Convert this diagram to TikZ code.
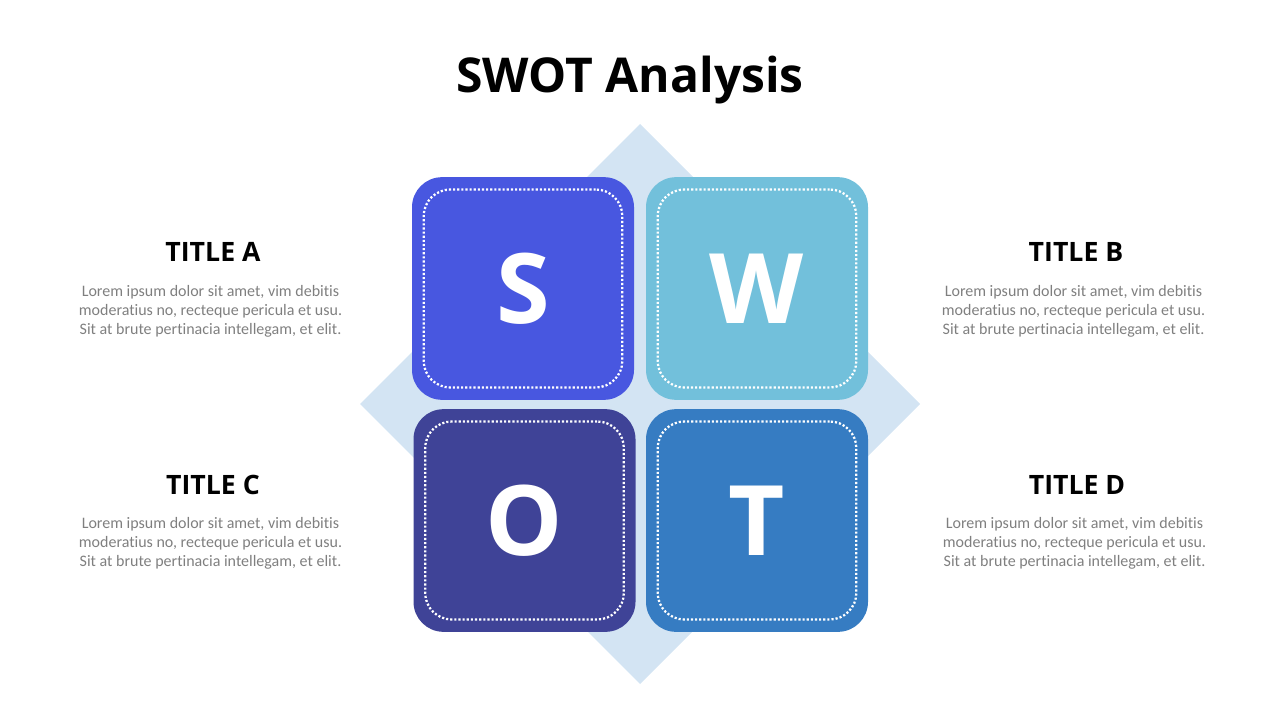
\documentclass[tikz,border=0pt]{standalone}
\usepackage{fontspec}
\setmainfont{Carlito}[Ligatures=NoCommon]
\newfontfamily\headfont{Open Sans}
\definecolor{colS}{HTML}{4857E0}
\definecolor{colW}{HTML}{72C0DB}
\definecolor{colO}{HTML}{3F4397}
\definecolor{colT}{HTML}{367CC2}
\definecolor{colBack}{HTML}{D3E4F3}
\definecolor{colBody}{HTML}{7F7F7F}
\begin{document}
\begin{tikzpicture}[x=0.75pt,y=-0.75pt,line join=round,
	box/.style={rectangle,rounded corners=22.5pt,minimum width=166.5pt,minimum height=167pt,inner sep=0pt,text=white,font=\headfont\bfseries\fontsize{73}{73}\selectfont},
	dots/.style={rectangle,draw=white,line width=1.7pt,dash pattern=on 1.6pt off 1.5pt,rounded corners=20pt,minimum width=149pt,minimum height=148.5pt,inner sep=0pt},
	heading/.style={anchor=base,inner sep=0pt,font=\headfont\bfseries\fontsize{20}{24}\selectfont},
	body/.style={anchor=base,inner sep=0pt,align=center,text=colBody,font=\fontsize{12}{14.25}\selectfont}]
	\useasboundingbox (0,0) rectangle (1280,720);
	\node[anchor=base,inner sep=0pt,font=\headfont\bfseries\fontsize{36}{40}\selectfont] (head) at (630,93) {SWOT Analysis};
	\fill[colBack] (640,124) coordinate (N) -- (920,404) coordinate (E) -- (640,684) coordinate (Sd) -- (360,404) coordinate (Wd) -- cycle;
	\foreach \n/\c/\x/\y in {S/colS/523/288.5, W/colW/757/288.5, O/colO/524.5/520.5, T/colT/757/520.5}{
		\node[box,fill=\c] (\n) at (\x,\y) {\n};
		\node[dots] (\n d) at (\n) {};
	};
	\foreach \t/\x/\y in {A/213/262, B/1076/262, C/213/494, D/1077/494}{
		\node[heading] (title \t) at (\x,\y) {TITLE \t};
		\node[body] (text \t) at (\x-2.5,\y+72) {Lorem ipsum dolor sit amet, vim debitis\\moderatius no, recteque pericula et usu.\\Sit at brute pertinacia intellegam, et elit.};
	};
\end{tikzpicture}
\end{document}
